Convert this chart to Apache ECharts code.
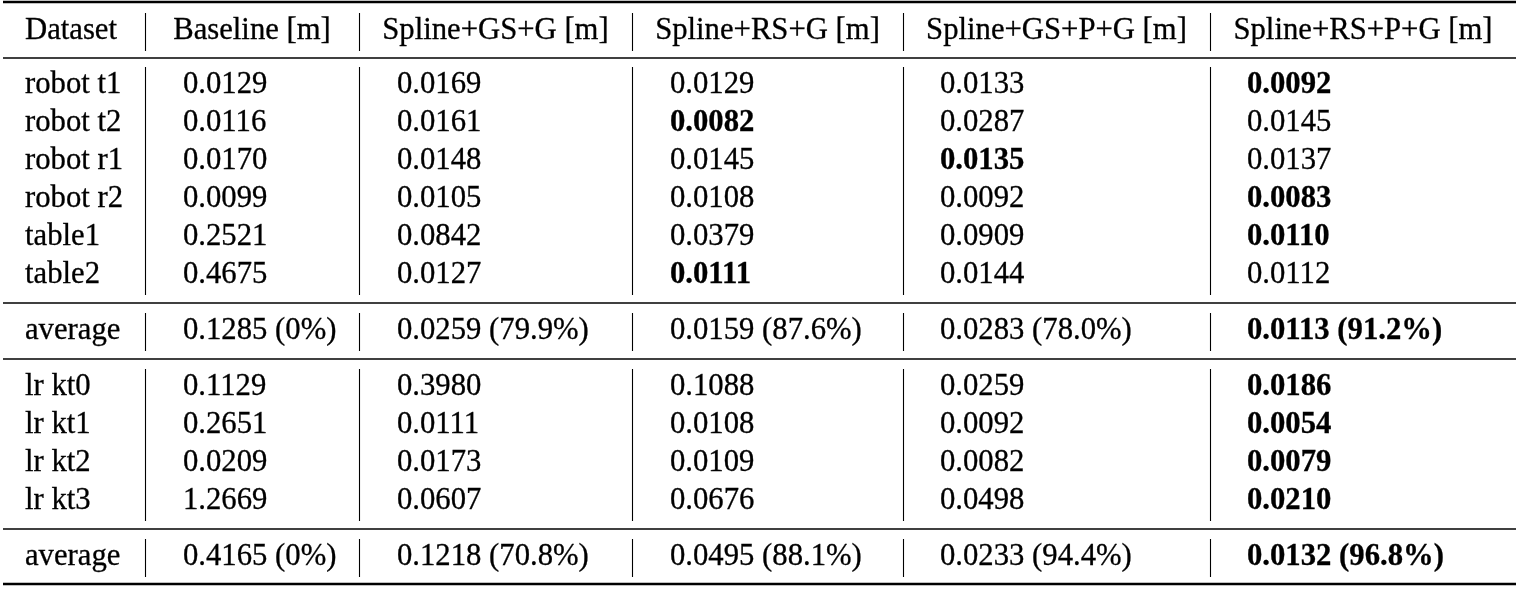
<!DOCTYPE html>
<html>
<head>
<meta charset="utf-8">
<script src="https://cdn.jsdelivr.net/npm/echarts@6/dist/echarts.min.js"></script>
<style>
  html, body { margin: 0; padding: 0; background: #fff; }
  #main { width: 1519px; height: 589px; }
</style>
</head>
<body>
<div id="main"></div>
<script>
var chart = echarts.init(document.getElementById('main'));

// column headers
var headers = ['Dataset', 'Baseline [m]', 'Spline+GS+G [m]', 'Spline+RS+G [m]', 'Spline+GS+P+G [m]', 'Spline+RS+P+G [m]'];

// first block (robot / table) - one array per method
var datasetsA = ['robot t1', 'robot t2', 'robot r1', 'robot r2', 'table1', 'table2'];
var baselineA = [0.0129, 0.0116, 0.0170, 0.0099, 0.2521, 0.4675];
var gsGA      = [0.0169, 0.0161, 0.0148, 0.0105, 0.0842, 0.0127];
var rsGA      = [0.0129, 0.0082, 0.0145, 0.0108, 0.0379, 0.0111];
var gsPGA     = [0.0133, 0.0287, 0.0135, 0.0092, 0.0909, 0.0144];
var rsPGA     = [0.0092, 0.0145, 0.0137, 0.0083, 0.0110, 0.0112];
var bestA     = [5, 3, 4, 5, 5, 3];   // column shown in bold
var averageA  = [0.1285, 0.0259, 0.0159, 0.0283, 0.0113];
var percentA  = [0, 79.9, 87.6, 78.0, 91.2];

// second block (lr kt)
var datasetsB = ['lr kt0', 'lr kt1', 'lr kt2', 'lr kt3'];
var baselineB = [0.1129, 0.2651, 0.0209, 1.2669];
var gsGB      = [0.3980, 0.0111, 0.0173, 0.0607];
var rsGB      = [0.1088, 0.0108, 0.0109, 0.0676];
var gsPGB     = [0.0259, 0.0092, 0.0082, 0.0498];
var rsPGB     = [0.0186, 0.0054, 0.0079, 0.0210];
var bestB     = [5, 5, 5, 5];
var averageB  = [0.4165, 0.1218, 0.0495, 0.0233, 0.0132];
var percentB  = [0, 70.8, 88.1, 94.4, 96.8];

// layout (pixels)
var W = 1519, H = 589;
var FONT = '30.7px "Liberation Serif", "Times New Roman", serif';
var FONT_B = 'bold 30.7px "Liberation Serif", "Times New Roman", serif';
var separadores = [145, 359, 632, 903, 1210];
var textoX = [25, 183, 397, 670, 940, 1247];
var reglaX = [3, 1516];
var ALTO_FILA = 38, EXTRA_REGLA = 18;

function fmtAvg(v, p, i) {
  return v.toFixed(4) + ' (' + (i === 0 ? '0' : p.toFixed(1)) + '%)';
}

// build row list: sections separated by rules
function filasBloque(nombres, cols, best) {
  return nombres.map(function (n, r) {
    return { textos: [n].concat(cols.map(function (c) { return c[r].toFixed(4); })), best: best[r] };
  });
}
var secciones = [
  filasBloque(datasetsA, [baselineA, gsGA, rsGA, gsPGA, rsPGA], bestA),
  [{ textos: ['average'].concat(averageA.map(function (v, i) { return fmtAvg(v, percentA[i], i); })), best: 5 }],
  filasBloque(datasetsB, [baselineB, gsGB, rsGB, gsPGB, rsPGB], bestB),
  [{ textos: ['average'].concat(averageB.map(function (v, i) { return fmtAvg(v, percentB[i], i); })), best: 5 }]
];

var celdas = [];      // [x, y, text, bold, align]
var reglas = [];      // [x1, x2, y, width]
var lineasV = [];     // [x, y]

var y = 31;
headers.forEach(function (h, c) {
  var xc = c === 0 ? textoX[0] : ((c < 5 ? separadores[c] : reglaX[1]) + separadores[c - 1]) / 2;
  celdas.push([xc, y, h, 0, c === 0 ? 'left' : 'center']);
});
separadores.forEach(function (s) { lineasV.push([s, y]); });
reglas.push([reglaX[0], reglaX[1], y - 29, 2.6]);
var prevY = y;
y += ALTO_FILA + EXTRA_REGLA - 2;
reglas.push([reglaX[0], reglaX[1], (prevY + y) / 2, 1.5]);

secciones.forEach(function (sec, si) {
  if (si > 0) {
    prevY = y - ALTO_FILA;
    y += EXTRA_REGLA;
    reglas.push([reglaX[0], reglaX[1], (prevY + y) / 2, 1.5]);
  }
  sec.forEach(function (fila) {
    fila.textos.forEach(function (t, c) {
      celdas.push([textoX[c], y, t, fila.best === c ? 1 : 0, 'left']);
    });
    separadores.forEach(function (s) { lineasV.push([s, y]); });
    y += ALTO_FILA;
  });
});
reglas.push([reglaX[0], reglaX[1], y - ALTO_FILA + 27, 2.6]);

var option = {
  backgroundColor: '#fff',
  animation: false,
  grid: { left: 0, right: 0, top: 0, bottom: 0 },
  xAxis: { type: 'value', min: 0, max: W, show: false },
  yAxis: { type: 'value', min: 0, max: H, inverse: true, show: false },
  series: [
    {
      type: 'custom',
      name: 'reglas',
      data: reglas,
      renderItem: function (params, api) {
        var d = reglas[params.dataIndex];
        var p1 = api.coord([d[0], d[2]]);
        var p2 = api.coord([d[1], d[2]]);
        return {
          type: 'line',
          shape: { x1: p1[0], y1: p1[1], x2: p2[0], y2: p2[1] },
          style: { stroke: '#000', lineWidth: d[3] }
        };
      }
    },
    {
      type: 'custom',
      name: 'separadores',
      data: lineasV,
      renderItem: function (params, api) {
        var d = lineasV[params.dataIndex];
        var p1 = api.coord([d[0], d[1] - 18]);
        var p2 = api.coord([d[0], d[1] + 20]);
        return {
          type: 'line',
          shape: { x1: p1[0] + 0.5, y1: p1[1], x2: p2[0] + 0.5, y2: p2[1] },
          style: { stroke: '#000', lineWidth: 1.1 }
        };
      }
    },
    {
      type: 'custom',
      name: 'celdas',
      data: celdas.map(function (c) { return [c[0], c[1]]; }),
      renderItem: function (params, api) {
        var d = celdas[params.dataIndex];
        var p = api.coord([d[0], d[1]]);
        return {
          type: 'text',
          x: p[0],
          y: p[1],
          style: {
            text: d[2],
            font: d[3] ? FONT_B : FONT,
            fill: '#000',
            stroke: '#000',
            lineWidth: 0.3,
            align: d[4],
            verticalAlign: 'middle'
          }
        };
      }
    }
  ]
};

chart.setOption(option);
</script>
</body>
</html>
